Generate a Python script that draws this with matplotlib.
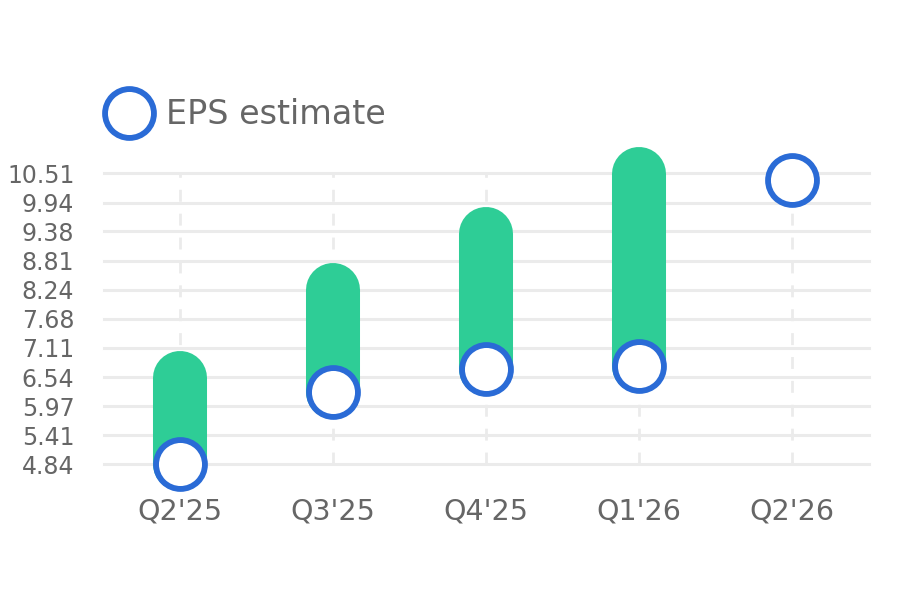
import matplotlib
matplotlib.use("Agg")
import matplotlib.pyplot as plt
from matplotlib.lines import Line2D

quarters = ["Q2'25", "Q3'25", "Q4'25", "Q1'26", "Q2'26"]
eps_estimate = [4.84, 6.24, 6.70, 6.76, 10.38]
eps_high = [6.53, 8.23, 9.33, 10.50, None]
yticks = [4.84, 5.41, 5.97, 6.54, 7.11, 7.68, 8.24, 8.81, 9.38, 9.94, 10.51]

GREEN = "#2ecd96"
BLUE = "#2a6bd6"
GRID = "#ebebeb"
TEXT = "#666666"

fig = plt.figure(figsize=(9, 6), dpi=100)
ax = fig.add_axes([0.115, 1 - 464.3 / 600, 0.85, (464.3 - 173.3) / 600])
ax.set_xlim(-0.5, 4.5)
ax.set_ylim(yticks[0], yticks[-1])

x = list(range(len(quarters)))

# vertical dashed grid lines
for xi in x:
    ax.plot([xi, xi], [yticks[0], yticks[-1]], color=GRID, lw=2.0,
            linestyle=(0, (4.3, 4.3)), zorder=1, clip_on=False)
for yv in yticks:
    ax.axhline(yv, color=GRID, lw=2.2, zorder=1, clip_on=False)

# range bars with rounded caps
for xi, lo, hi in zip(x, eps_estimate, eps_high):
    if hi is None:
        continue
    ax.plot([xi, xi], [lo, hi], color=GREEN, lw=38.9, solid_capstyle="round",
            zorder=2, clip_on=False)

MS = 35.2
MEW = 4.2
ax.plot(x, eps_estimate, linestyle="none", marker="o", markersize=MS,
        markerfacecolor="white", markeredgecolor=BLUE, markeredgewidth=MEW,
        zorder=3, clip_on=False)

ax.set_xticks(x)
ax.set_xticklabels(quarters)
ax.set_yticks(yticks)
ax.set_yticklabels([f"{v:.2f}" for v in yticks])
ax.tick_params(axis="x", length=0, pad=24, labelsize=20.5, labelcolor=TEXT)
ax.tick_params(axis="y", length=0, pad=21, labelsize=17, labelcolor=TEXT)
for s in ax.spines.values():
    s.set_visible(False)

handle = Line2D([], [], linestyle="none", marker="o", markersize=MS,
                markerfacecolor="white", markeredgecolor=BLUE, markeredgewidth=MEW)
leg = fig.legend(handles=[handle], labels=["EPS estimate"], loc="center left",
                 bbox_to_anchor=(112 / 900, 1 - 115 / 600), frameon=False,
                 fontsize=24, handlelength=1.0, handletextpad=0.62,
                 borderpad=0, borderaxespad=0)
for t in leg.get_texts():
    t.set_color(TEXT)

fig.savefig("out.png", dpi=100)
